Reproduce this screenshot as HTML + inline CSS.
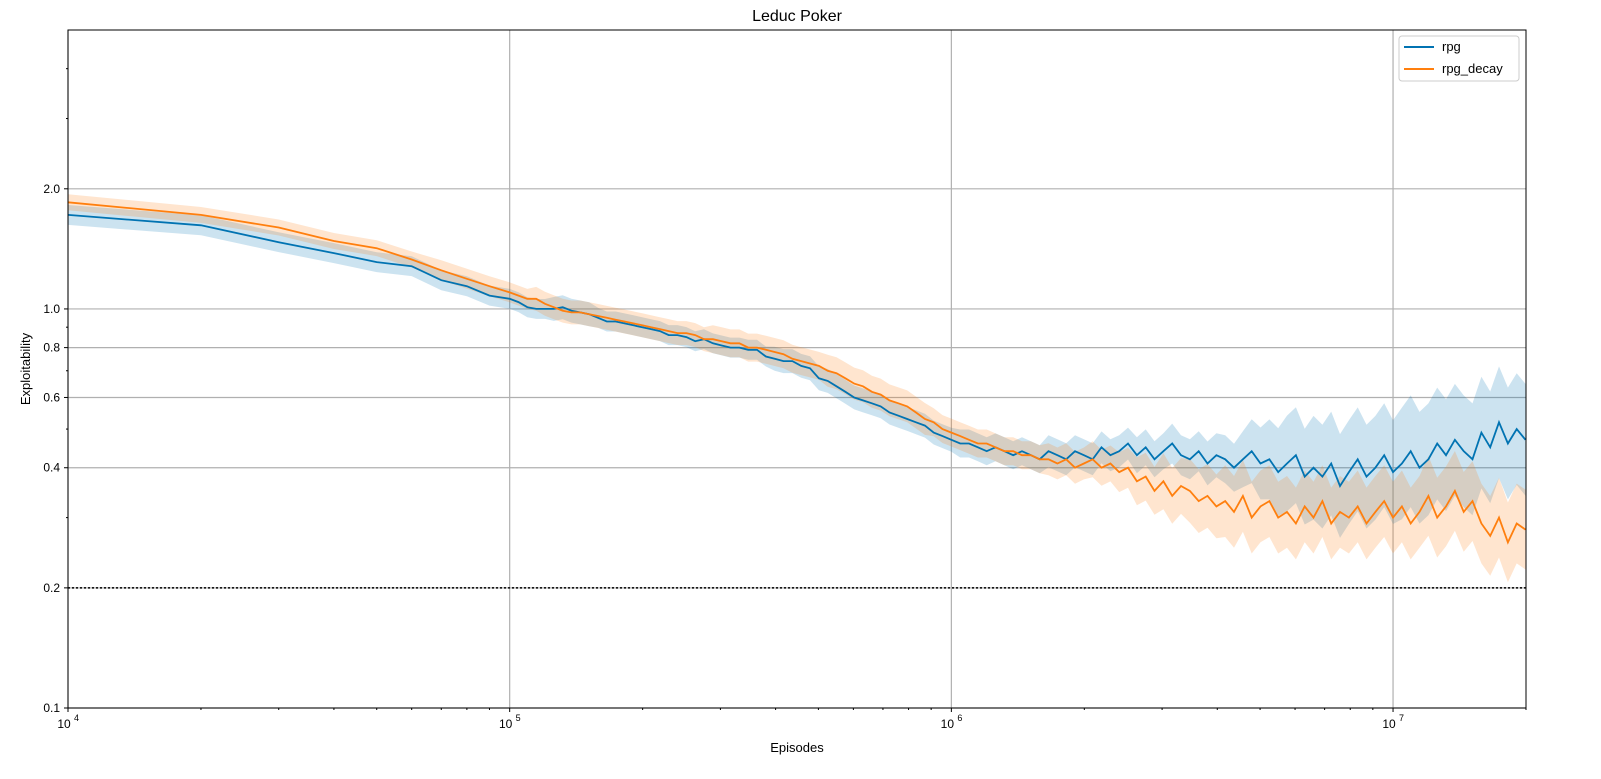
<!DOCTYPE html>
<html><head><meta charset="utf-8">
<style>
body{margin:0;background:#fff;}
svg{display:block;font-family:"Liberation Sans","DejaVu Sans",sans-serif;}
</style></head>
<body>
<svg id="chart" width="1601" height="779" viewBox="0 0 1601 779" xmlns="http://www.w3.org/2000/svg">
<rect width="1601" height="779" fill="#fff"/>
<text x="797" y="21" text-anchor="middle" font-size="16">Leduc Poker</text>
<text x="797" y="752" text-anchor="middle" font-size="13">Episodes</text>
<text transform="translate(30,369) rotate(-90)" text-anchor="middle" font-size="13">Exploitability</text>
<g id="grid"></g><g id="bands"></g><g id="lines"></g><g id="axes"></g>
<g>
<rect x="1399" y="36" width="120" height="45" fill="#fff" stroke="#ccc" rx="3"/>
<line x1="1404" y1="47" x2="1434" y2="47" stroke="#0173b2" stroke-width="2"/>
<text x="1442" y="51" font-size="13">rpg</text>
<line x1="1404" y1="69" x2="1434" y2="69" stroke="#ff7f0e" stroke-width="2"/>
<text x="1442" y="73" font-size="13">rpg_decay</text>
</g>
</svg>
<script>
const earlyEpisodes=[1e4,2e4,3e4,4e4,5e4,6e4,7e4,8e4,9e4];
const lateLogStart=5.0, lateLogStep=0.02, lateCount=116;
const rpgValues=[1.72,1.62,1.47,1.38,1.31,1.28,1.18,1.14,1.08,
1.06,1.04,1.01,1.00,1.00,1.00,1.01,0.99,0.98,0.97,
0.95,0.93,0.93,0.92,0.91,0.90,0.89,0.88,0.86,0.86,
0.85,0.83,0.84,0.82,0.81,0.80,0.80,0.79,0.79,0.76,
0.75,0.74,0.74,0.72,0.71,0.67,0.66,0.64,0.62,0.60,
0.59,0.58,0.57,0.55,0.54,0.53,0.52,0.51,0.49,0.48,0.47,
0.46,0.46,0.45,0.44,0.45,0.44,0.43,0.44,0.43,0.42,
0.44,0.43,0.42,0.44,0.43,0.42,0.45,0.43,0.44,0.46,
0.43,0.45,0.42,0.44,0.46,0.43,0.42,0.44,0.41,0.43,
0.42,0.40,0.42,0.44,0.41,0.42,0.39,0.41,0.43,0.38,
0.40,0.38,0.41,0.36,0.39,0.42,0.38,0.40,0.43,0.39,
0.41,0.44,0.40,0.42,0.46,0.43,0.47,0.44,0.42,0.49,
0.45,0.52,0.46,0.50,0.47];
const decayValues=[1.85,1.72,1.60,1.48,1.42,1.33,1.25,1.19,1.14,
1.10,1.08,1.06,1.06,1.03,1.01,0.99,0.98,0.98,0.97,
0.96,0.95,0.94,0.93,0.92,0.91,0.90,0.89,0.88,0.87,
0.87,0.86,0.84,0.84,0.83,0.82,0.82,0.80,0.80,0.79,
0.78,0.77,0.75,0.74,0.73,0.72,0.70,0.69,0.67,0.65,
0.64,0.62,0.61,0.59,0.58,0.57,0.55,0.53,0.52,0.50,0.49,
0.48,0.47,0.46,0.46,0.45,0.44,0.44,0.43,0.43,0.42,
0.42,0.41,0.42,0.40,0.41,0.42,0.40,0.41,0.39,0.40,
0.37,0.38,0.35,0.37,0.34,0.36,0.35,0.33,0.34,0.32,
0.33,0.31,0.34,0.30,0.32,0.33,0.30,0.31,0.29,0.32,
0.30,0.33,0.29,0.31,0.30,0.32,0.29,0.31,0.33,0.30,
0.32,0.29,0.31,0.34,0.30,0.32,0.35,0.31,0.33,0.29,
0.27,0.30,0.26,0.29,0.28];
const rpgSpread=[0.025,0.025,0.025,0.025,0.025,0.025,0.025,0.025,0.025,
0.025,0.025,0.025,0.025,0.025,0.03,0.03,0.03,0.03,0.03,
0.025,0.025,0.025,0.025,0.025,0.025,0.025,0.025,0.025,0.025,
0.025,0.025,0.025,0.025,0.025,0.025,0.025,0.025,0.025,0.025,
0.03,0.03,0.03,0.03,0.03,0.03,0.03,0.03,0.03,0.03,
0.03,0.03,0.03,0.03,0.03,0.03,0.03,0.03,0.03,0.03,0.03,
0.035,0.035,0.035,0.035,0.035,0.035,0.035,0.035,0.035,0.035,
0.04,0.04,0.04,0.04,0.04,0.04,0.04,0.04,0.04,0.04,
0.045,0.045,0.045,0.045,0.05,0.05,0.05,0.05,0.055,0.055,
0.06,0.06,0.07,0.08,0.09,0.10,0.11,0.12,0.12,0.12,
0.13,0.13,0.13,0.13,0.13,0.13,0.13,0.13,0.13,0.13,
0.14,0.14,0.14,0.14,0.14,0.14,0.14,0.14,0.14,0.14,
0.14,0.14,0.14,0.14,0.14];
const decaySpread=[0.02,0.02,0.02,0.02,0.02,0.02,0.025,0.025,0.025,
0.025,0.025,0.025,0.03,0.03,0.03,0.03,0.03,0.03,0.03,
0.03,0.03,0.03,0.03,0.03,0.03,0.03,0.03,0.03,0.03,
0.03,0.03,0.03,0.035,0.035,0.035,0.035,0.035,0.035,0.035,
0.035,0.035,0.035,0.035,0.035,0.035,0.04,0.04,0.04,0.04,
0.04,0.04,0.04,0.04,0.04,0.04,0.04,0.04,0.035,0.035,0.035,
0.035,0.035,0.035,0.035,0.035,0.035,0.035,0.035,0.035,0.035,
0.04,0.04,0.04,0.04,0.04,0.045,0.045,0.045,0.05,0.05,
0.06,0.06,0.06,0.07,0.07,0.07,0.08,0.08,0.08,0.08,
0.09,0.09,0.09,0.09,0.09,0.09,0.09,0.09,0.09,0.09,
0.09,0.09,0.09,0.09,0.09,0.09,0.09,0.09,0.09,0.09,
0.09,0.09,0.09,0.10,0.10,0.10,0.10,0.10,0.10,0.10,
0.10,0.10,0.10,0.10,0.10];
const yTickValues=[0.1,0.2,0.4,0.6,0.8,1.0,2.0];
const yTickLabels=["0.1","0.2","0.4","0.6","0.8","1.0","2.0"];
const yMinorValues=[0.3,0.5,0.7,0.9,3,4];
const xMajorExps=[4,5,6,7];

const L=68,R=1526,T=30,B=708;
const xMinLog=4, xMaxLog=Math.log10(2e7), yMinLog=-1, yMaxLog=Math.log10(5);
function xs(v){return L+(Math.log10(v)-xMinLog)/(xMaxLog-xMinLog)*(R-L);}
function ys(v){return B-(Math.log10(v)-yMinLog)/(yMaxLog-yMinLog)*(B-T);}
const NS="http://www.w3.org/2000/svg";
function mk(tag,attrs,parent){const e=document.createElementNS(NS,tag);for(const k in attrs)e.setAttribute(k,attrs[k]);parent.appendChild(e);return e;}
const episodes=earlyEpisodes.slice();
for(let i=0;i<lateCount;i++)episodes.push(Math.pow(10,lateLogStart+lateLogStep*i));

const grid=document.getElementById('grid'),axes=document.getElementById('axes'),bands=document.getElementById('bands'),lines=document.getElementById('lines');
yTickValues.forEach((v,i)=>{
  const g=mk('line',{x1:L,x2:R,y1:ys(v),y2:ys(v),stroke:'#b0b0b0','stroke-width':1.2},grid);
  
  
  mk('line',{x1:L-4,x2:L,y1:ys(v),y2:ys(v),stroke:'#000'},axes);
  const t=mk('text',{x:L-8,y:ys(v)+4,'text-anchor':'end','font-size':12},axes);
  
  
  t.textContent=yTickLabels[i];
});
yMinorValues.forEach(v=>{mk('line',{x1:L-2,x2:L,y1:ys(v),y2:ys(v),stroke:'#000'},axes);});
xMajorExps.forEach(e=>{
  const x=xs(Math.pow(10,e));
  const g=mk('line',{x1:x,x2:x,y1:T,y2:B,stroke:'#b0b0b0','stroke-width':1.2},grid);
  
  
  mk('line',{x1:x,x2:x,y1:B,y2:B+4,stroke:'#000'},axes);
  const t=mk('text',{x:x-4,y:B+20,'text-anchor':'middle','font-size':12},axes);
  
  
  t.textContent='10';
  const s=mk('text',{x:x+6,y:B+13,'font-size':9},axes);
  s.textContent=String(e);
  for(let m=2;m<=9;m++){const v=m*Math.pow(10,e);if(v<=2e7){const xm=xs(v);mk('line',{x1:xm,x2:xm,y1:B,y2:B+2,stroke:'#000'},axes);}}
});
const dl=mk('line',{x1:L,x2:R,y1:ys(0.2),y2:ys(0.2),stroke:'#000','stroke-width':1.5,'stroke-dasharray':'2,2'},grid);


mk('rect',{x:L,y:T,width:R-L,height:B-T,fill:'none',stroke:'#000','stroke-width':1},axes);

function drawSeries(vals,spread,color,name){
  let up='',lo='';
  for(let i=0;i<vals.length;i++){up+=(i?'L':'M')+xs(episodes[i]).toFixed(1)+','+ys(vals[i]*Math.pow(10,spread[i])).toFixed(1);}
  for(let i=vals.length-1;i>=0;i--){lo+='L'+xs(episodes[i]).toFixed(1)+','+ys(vals[i]/Math.pow(10,spread[i])).toFixed(1);}
  const b=mk('path',{d:up+lo+'Z',fill:color,'fill-opacity':0.2,stroke:'none'},bands);
  
  
  let d='';
  for(let i=0;i<vals.length;i++){d+=(i?'L':'M')+xs(episodes[i]).toFixed(1)+','+ys(vals[i]).toFixed(1);}
  const p=mk('path',{d:d,fill:'none',stroke:color,'stroke-width':1.8},lines);
  
  
}
drawSeries(rpgValues,rpgSpread,'#0173b2','rpg');
drawSeries(decayValues,decaySpread,'#ff7f0e','rpg-decay');
</script>
</body></html>
